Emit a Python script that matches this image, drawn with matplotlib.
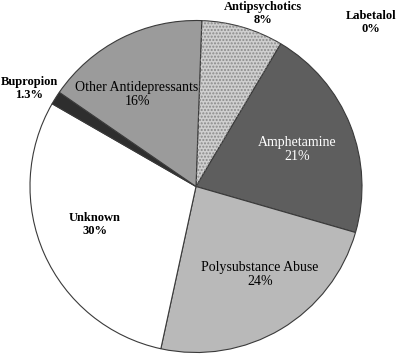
import matplotlib
matplotlib.use("Agg")
import matplotlib.pyplot as plt
from matplotlib.patches import Wedge

# slices, clockwise from the top
labels = ["Labetalol", "Antipsychotics", "Amphetamine", "Polysubstance Abuse",
          "Unknown", "Bupropion", "Other Antidepressants"]
pct_text = ["0%", "8%", "21%", "24%", "30%", "1.3%", "16%"]
values = [0, 8, 21, 24, 30, 1.3, 16]
colors = ["#ffffff", "#cfcfcf", "#5e5e5e", "#b9b9b9", "#ffffff", "#2e2e2e", "#9b9b9b"]

# label positions in pie units (radius = 1), colours and weights
label_xy = [(1.055, 0.99), (0.405, 1.04), (0.61, 0.22), (0.385, -0.53),
            (-0.61, -0.23), (-1.005, 0.59), (-0.355, 0.555)]
label_col = ["black", "black", "white", "black", "black", "black", "black"]
label_wt = ["bold", "bold", "normal", "normal", "bold", "bold", "normal"]
label_fs = [9, 9, 10, 10, 9, 9, 10]

plt.rcParams['font.family'] = ['Liberation Serif', 'DejaVu Serif']

fig = plt.figure(figsize=(3.97, 3.56), dpi=100)
ax = fig.add_axes([0, 0, 1, 1])

wedges, _ = ax.pie(values, colors=colors, startangle=88, counterclock=False,
                   wedgeprops=dict(edgecolor="#3a3a3a", linewidth=0.8))

# stipple on antipsychotics
w = wedges[1]
ax.add_patch(Wedge(w.center, w.r, w.theta1, w.theta2, facecolor="none",
                   edgecolor="#8a8a8a", linewidth=0, hatch="....."))

for i in range(len(labels)):
    ax.text(label_xy[i][0], label_xy[i][1], labels[i] + "\n" + pct_text[i],
            ha="center", va="center", fontsize=label_fs[i], color=label_col[i],
            fontweight=label_wt[i], linespacing=1.1)

ax.set_xlim(-196 / 166, 201 / 166)
ax.set_ylim(-169.5 / 166, 186.5 / 166)
ax.set_aspect("auto")
ax.axis("off")

fig.savefig("out.png", dpi=100)
